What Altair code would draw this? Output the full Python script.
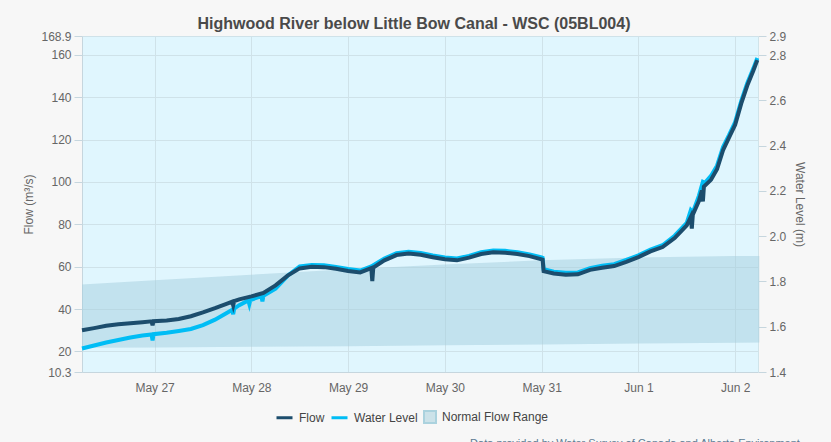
import altair as alt
import pandas as pd

TITLE = "Highwood River below Little Bow Canal - WSC (05BL004)"
LINE_SERIES = ["Flow", "Water Level"]
LINE_COLORS = ["#1c4d6d", "#00bdf5"]
BAND_SERIES = ["Normal Flow Range"]
BAND_COLORS = ["#a3cedd"]

# Discharge (m³/s)
flow_times = [
    "2025-05-26T06:00", "2025-05-26T09:00", "2025-05-26T12:00", "2025-05-26T15:00",
    "2025-05-26T18:00", "2025-05-26T21:00", "2025-05-26T23:15", "2025-05-26T23:30",
    "2025-05-26T23:45", "2025-05-27T03:00", "2025-05-27T06:00", "2025-05-27T09:00",
    "2025-05-27T12:00", "2025-05-27T15:00", "2025-05-27T18:00", "2025-05-27T19:15",
    "2025-05-27T19:30", "2025-05-27T19:45", "2025-05-27T21:00", "2025-05-28T00:00",
    "2025-05-28T03:00", "2025-05-28T06:00", "2025-05-28T09:00", "2025-05-28T12:00",
    "2025-05-28T15:00", "2025-05-28T18:00", "2025-05-28T21:00", "2025-05-29T00:00",
    "2025-05-29T03:00", "2025-05-29T05:45", "2025-05-29T06:00", "2025-05-29T06:15",
    "2025-05-29T09:00", "2025-05-29T12:00", "2025-05-29T15:00", "2025-05-29T18:00",
    "2025-05-29T21:00", "2025-05-30T00:00", "2025-05-30T03:00", "2025-05-30T06:00",
    "2025-05-30T09:00", "2025-05-30T12:00", "2025-05-30T15:00", "2025-05-30T18:00",
    "2025-05-30T21:00", "2025-05-31T00:00", "2025-05-31T00:15", "2025-05-31T00:30",
    "2025-05-31T03:00", "2025-05-31T06:00", "2025-05-31T09:00", "2025-05-31T12:00",
    "2025-05-31T15:00", "2025-05-31T18:00", "2025-05-31T21:00", "2025-06-01T00:00",
    "2025-06-01T03:00", "2025-06-01T06:00", "2025-06-01T09:00", "2025-06-01T12:00",
    "2025-06-01T13:00", "2025-06-01T13:15", "2025-06-01T13:30", "2025-06-01T15:00",
    "2025-06-01T15:45", "2025-06-01T16:00", "2025-06-01T16:15", "2025-06-01T18:00",
    "2025-06-01T19:30", "2025-06-01T21:00", "2025-06-01T22:30", "2025-06-02T00:00",
    "2025-06-02T01:30", "2025-06-02T03:00", "2025-06-02T04:30", "2025-06-02T05:30",
]
flow_values = [
    30.0, 31.0, 32.1, 32.8,
    33.3, 33.8, 34.2, 32.4,
    34.3, 34.6, 35.3, 36.6,
    38.4, 40.4, 42.6, 43.5,
    41.8, 43.8, 44.6, 46.0,
    47.6, 51.2, 55.8, 59.2,
    60.0, 59.8, 59.0, 58.0,
    57.3, 59.3, 53.2, 59.6,
    63.0, 65.5, 66.2, 65.6,
    64.5, 63.5, 63.0, 64.3,
    66.0, 66.8, 66.6, 66.0,
    65.0, 63.5, 63.3, 57.9,
    56.8, 56.2, 56.4, 58.5,
    59.5, 60.3, 62.3, 64.5,
    67.2, 69.3, 73.5, 79.5,
    83.5, 78.0, 84.5, 91.0,
    96.0, 90.8, 97.8, 101.0,
    106.0, 115.0, 121.0, 127.0,
    137.0, 145.5, 152.5, 157.5,
]

# Water level (m)
level_times = [
    "2025-05-26T06:00", "2025-05-26T09:00", "2025-05-26T12:00", "2025-05-26T15:00",
    "2025-05-26T18:00", "2025-05-26T21:00", "2025-05-26T23:15", "2025-05-26T23:30",
    "2025-05-26T23:45", "2025-05-27T03:00", "2025-05-27T06:00", "2025-05-27T09:00",
    "2025-05-27T12:00", "2025-05-27T15:00", "2025-05-27T18:00", "2025-05-27T19:15",
    "2025-05-27T19:30", "2025-05-27T19:45", "2025-05-27T21:00", "2025-05-27T23:15",
    "2025-05-27T23:30", "2025-05-27T23:45", "2025-05-28T02:30", "2025-05-28T02:45",
    "2025-05-28T03:00", "2025-05-28T06:00", "2025-05-28T09:00", "2025-05-28T12:00",
    "2025-05-28T15:00", "2025-05-28T18:00", "2025-05-28T21:00", "2025-05-29T00:00",
    "2025-05-29T03:00", "2025-05-29T05:45", "2025-05-29T09:00", "2025-05-29T12:00",
    "2025-05-29T15:00", "2025-05-29T18:00", "2025-05-29T21:00", "2025-05-30T00:00",
    "2025-05-30T03:00", "2025-05-30T06:00", "2025-05-30T09:00", "2025-05-30T12:00",
    "2025-05-30T15:00", "2025-05-30T18:00", "2025-05-30T21:00", "2025-05-31T00:00",
    "2025-05-31T00:15", "2025-05-31T00:30", "2025-05-31T03:00", "2025-05-31T06:00",
    "2025-05-31T09:00", "2025-05-31T12:00", "2025-05-31T15:00", "2025-05-31T18:00",
    "2025-05-31T21:00", "2025-06-01T00:00", "2025-06-01T03:00", "2025-06-01T06:00",
    "2025-06-01T09:00", "2025-06-01T12:00", "2025-06-01T13:00", "2025-06-01T13:30",
    "2025-06-01T15:00", "2025-06-01T16:00", "2025-06-01T16:30", "2025-06-01T18:00",
    "2025-06-01T19:30", "2025-06-01T21:00", "2025-06-01T22:30", "2025-06-02T00:00",
    "2025-06-02T01:30", "2025-06-02T03:00", "2025-06-02T04:30", "2025-06-02T05:30",
]
level_values = [
    1.504, 1.517, 1.530, 1.541,
    1.552, 1.561, 1.566, 1.539,
    1.567, 1.573, 1.581, 1.590,
    1.607, 1.631, 1.662, 1.675,
    1.655, 1.680, 1.695, 1.716,
    1.700, 1.718, 1.735, 1.712,
    1.737, 1.768, 1.825, 1.866,
    1.873, 1.871, 1.864, 1.855,
    1.848, 1.866, 1.901, 1.925,
    1.931, 1.926, 1.915, 1.906,
    1.901, 1.913, 1.929, 1.937,
    1.935, 1.929, 1.919, 1.906,
    1.904, 1.854, 1.843, 1.838,
    1.840, 1.859, 1.869, 1.876,
    1.895, 1.915, 1.941, 1.960,
    2.002, 2.059, 2.115, 2.105,
    2.178, 2.240, 2.236, 2.266,
    2.311, 2.394, 2.447, 2.504,
    2.597, 2.676, 2.740, 2.787,
]

# Normal flow range envelope (m³/s)
range_times = [
    "2025-05-26T06:00", "2025-05-27T00:00", "2025-05-28T00:00", "2025-05-29T00:00",
    "2025-05-30T00:00", "2025-05-31T00:00", "2025-06-01T00:00", "2025-06-02T00:00",
    "2025-06-02T06:00",
]
range_low = [21.7, 21.9, 22.2, 22.5, 22.9, 23.3, 23.7, 24.1, 24.2]
range_high = [51.6, 53.6, 56.2, 58.8, 61.0, 63.0, 64.4, 65.0, 65.1]

flow_ticks = [10.3, 20, 40, 60, 80, 100, 120, 140, 160, 168.9]
level_ticks = [1.4, 1.6, 1.8, 2.0, 2.2, 2.4, 2.6, 2.8, 2.884]
tick_days = [(5, 27), (5, 28), (5, 29), (5, 30), (5, 31), (6, 1), (6, 2)]

CREDIT = "Data provided by Water Survey of Canada and Alberta Environment"

FONT = "Liberation Sans"
LABEL = "#666666"
LINE_GREY = "#c6d6de"

flow_df = pd.DataFrame({"time": flow_times, "value": flow_values, "series": "Flow"})
level_df = pd.DataFrame({"time": level_times, "value": level_values, "series": "Water Level"})
range_df = pd.DataFrame({"time": range_times, "low": range_low, "high": range_high,
                         "series": "Normal Flow Range"})

x_domain = [alt.DateTime(year=2025, month=5, date=26, hours=6),
            alt.DateTime(year=2025, month=6, date=2, hours=5, minutes=40)]
x_values = [alt.DateTime(year=2025, month=m, date=d) for m, d in tick_days]

x_enc = alt.X(
    "time:T",
    scale=alt.Scale(domain=x_domain),
    axis=alt.Axis(values=x_values, format="%b %-d", title=None, grid=True,
                  gridColor="#cfe2e9", ticks=False, labelPadding=10,
                  domainColor=LINE_GREY, labelColor=LABEL, labelFontSize=12,
                  labelFont=FONT),
)

flow_scale = alt.Scale(domain=[10.3, 168.9], nice=False, zero=False)
level_scale = alt.Scale(domain=[1.4, 2.884], nice=False, zero=False)

line_legend = alt.Legend(
    title=None, orient="none", direction="horizontal", legendX=193, legendY=372,
    labelFont=FONT, labelFontSize=12, labelColor="#444444",
    symbolType="stroke", symbolSize=256, symbolStrokeWidth=3,
    labelOffset=5, columnPadding=0,
)
band_legend = alt.Legend(
    title=None, orient="none", direction="horizontal", legendX=341, legendY=374,
    labelFont=FONT, labelFontSize=12, labelColor="#444444",
    symbolType="square", symbolSize=144, symbolStrokeWidth=2,
    symbolStrokeColor="#62aec6", symbolOpacity=0.5, labelOffset=5,
)

stroke_enc = alt.Stroke("series:N", scale=alt.Scale(domain=LINE_SERIES, range=LINE_COLORS),
                        legend=line_legend)

band = alt.Chart(range_df).mark_area(opacity=0.5).encode(
    x=x_enc,
    y=alt.Y("low:Q", scale=flow_scale, axis=None),
    y2="high:Q",
    fill=alt.Fill("series:N", scale=alt.Scale(domain=BAND_SERIES, range=BAND_COLORS),
                  legend=band_legend),
)

level_line = alt.Chart(level_df).mark_line(strokeWidth=4, strokeJoin="miter").encode(
    x=x_enc,
    y=alt.Y("value:Q", scale=level_scale,
            axis=alt.Axis(orient="right", title="Water Level (m)", values=level_ticks,
                          format=".1f", grid=False, labelOverlap=False, labelFlush=False,
                          tickSize=8, tickColor=LINE_GREY, domainColor="#d0e4ea",
                          labelColor=LABEL, labelFontSize=12, labelFont=FONT,
                          labelPadding=3, titleColor=LABEL, titleFontSize=12,
                          titleFontWeight="normal", titleFont=FONT, titlePadding=7)),
    stroke=stroke_enc,
)

flow_line = alt.Chart(flow_df).mark_line(strokeWidth=4, strokeJoin="miter").encode(
    x=x_enc,
    y=alt.Y("value:Q", scale=flow_scale,
            axis=alt.Axis(orient="left", title="Flow (m³/s)", values=flow_ticks,
                          format=".1~f", grid=True, gridColor="#cfe2e9",
                          labelOverlap=False, labelFlush=False,
                          tickSize=8, tickColor=LINE_GREY, domainColor=LINE_GREY,
                          labelColor=LABEL, labelFontSize=12, labelFont=FONT,
                          labelPadding=3, titleColor=LABEL, titleFontSize=12,
                          titleFontWeight="normal", titleFont=FONT, titlePadding=5)),
    stroke=stroke_enc,
)

credit = alt.Chart(pd.DataFrame({"t": [CREDIT]})).mark_text(
    align="center", baseline="top", fontSize=11, font=FONT, color="#5b7a92"
).encode(x=alt.value(553), y=alt.value(402), text="t:N")

chart = alt.layer(band, level_line, flow_line, credit).resolve_scale(
    y="independent"
).properties(
    width=676,
    height=336,
    title=alt.TitleParams(TITLE, fontSize=16, fontWeight="bold", color="#4a4a4a",
                          font=FONT, anchor="middle", dx=-6, offset=-2),
    background="#f7f7f7",
    autosize=alt.AutoSizeParams(type="none"),
    padding={"left": 82, "top": 36, "right": 73, "bottom": 70},
).configure_view(
    fill="#e0f6fe", stroke=None
)

chart.save("out.html", embed_options={"renderer": "svg", "actions": False})
